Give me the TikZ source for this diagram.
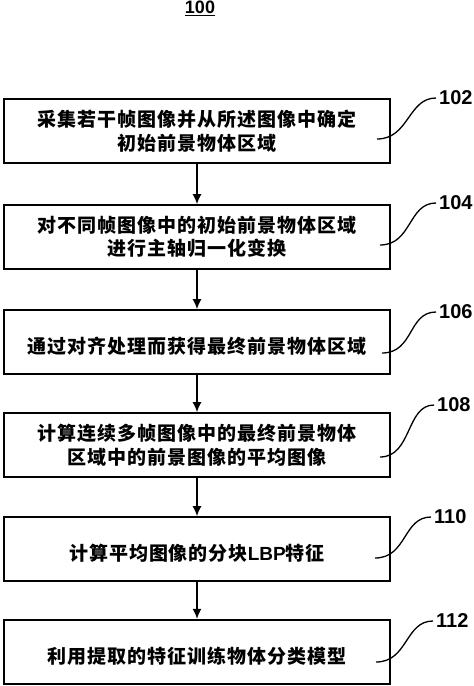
\documentclass[tikz,border=0pt]{standalone}
\usepackage{fontspec}
\setmainfont{Liberation Sans}
\newfontfamily\cjk[LetterSpace=5]{Noto Sans CJK SC}
\usetikzlibrary{arrows.meta}

\tikzset{
  stepbox/.style={draw, line width=1.6pt, minimum width=386pt, minimum height=64pt,
    align=center, inner sep=0pt, font=\cjk\bfseries\fontsize{19}{23.5}\selectfont,
    execute at begin node={\rule{0pt}{24pt}}},
  reflabel/.style={anchor=west, inner sep=3pt, font=\bfseries\fontsize{20}{22}\selectfont},
}

\begin{document}
\begin{tikzpicture}[x=1pt,y=-1pt]
      \useasboundingbox (0,0) rectangle (474,686);
      \node[font=\bfseries\fontsize{18}{20}\selectfont] (title) at (200,8.5) {\underline{100}};
      \draw
        (197,131) node[stepbox] (s102){采集若干帧图像并从所述图像中确定\\初始前景物体区域}
        (197,237) node[stepbox] (s104){对不同帧图像中的初始前景物体区域\\进行主轴归一化变换}
        (197,342) node[stepbox] (s106){通过对齐处理而获得最终前景物体区域}
        (197,445) node[stepbox] (s108){计算连续多帧图像中的最终前景物体\\区域中的前景图像的平均图像}
        (197,549) node[stepbox] (s110){计算平均图像的分块{\rmfamily\bfseries LBP}特征}
        (197,652) node[stepbox, line width=2.2pt] (s112){利用提取的特征训练物体分类模型};
      \draw
        (436,98) node[reflabel] (l102){102}
        (436,203) node[reflabel] (l104){104}
        (436,312) node[reflabel] (l106){106}
        (434,405) node[reflabel] (l108){108}
        (431,517) node[reflabel] (l110){110}
        (433,621) node[reflabel] (l112){112};
      \coordinate (c102) at (377,139);
      \coordinate (c104) at (380,245);
      \coordinate (c106) at (382,353);
      \coordinate (c108) at (380,457);
      \coordinate (c110) at (375,558);
      \coordinate (c112) at (376,662);
      \begin{scope}[-{Latex[length=10pt,width=9pt]}, line width=1.5pt]
        \draw (s102) to (s104);
        \draw (s104) to (s106);
        \draw (s106) to (s108);
        \draw (s108) to (s110);
        \draw (s110) to (s112);
      \end{scope}
      \begin{scope}[line width=1.3pt]
        \draw (c102) .. controls +(32,0) and +(-28,0) .. (l102.west);
        \draw (c104) .. controls +(32,0) and +(-28,0) .. (l104.west);
        \draw (c106) .. controls +(32,0) and +(-28,0) .. (l106.west);
        \draw (c108) .. controls +(32,0) and +(-28,0) .. (l108.west);
        \draw (c110) .. controls +(32,0) and +(-28,0) .. (l110.west);
        \draw (c112) .. controls +(32,0) and +(-28,0) .. (l112.west);
      \end{scope}
    \end{tikzpicture}
\end{document}
